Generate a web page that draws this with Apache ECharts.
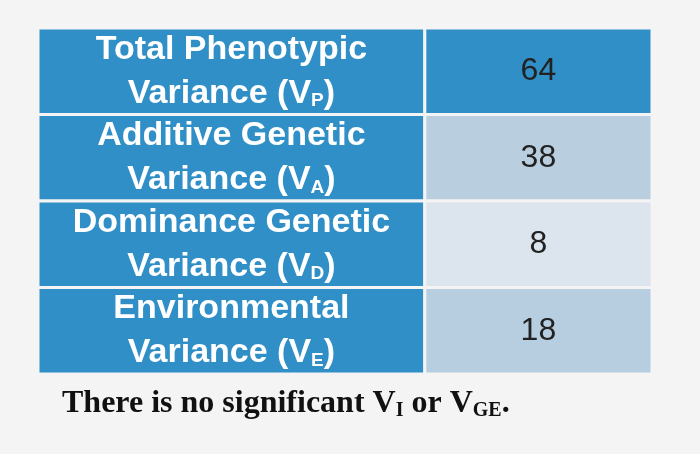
<!DOCTYPE html>
<html><head><meta charset="utf-8">
<script src="https://cdn.jsdelivr.net/npm/echarts@6/dist/echarts.min.js"></script>
<style>html,body{margin:0;background:#f4f4f4}#c{width:700px;height:454px}</style>
</head><body><div id="c"></div>
<script>
const labelsTop = ["Total Phenotypic", "Additive Genetic", "Dominance Genetic", "Environmental"];
const labelsSub = ["P", "A", "D", "E"];
const values = [64, 38, 8, 18];
const valueFill = ["#2f8fc6", "#b9cfe0", "#dce5ee", "#b7cee1"];
const caption = "There is no significant V";

const chart = echarts.init(document.getElementById('c'));
const data = values.map((v, i) => [i, v]);
chart.setOption({
  backgroundColor: '#f4f4f4',
  animation: false,
  grid: {left: 38, right: 48, top: 28, bottom: 80},
  xAxis: {type: 'value', min: 0, max: 1, show: false},
  yAxis: {type: 'value', min: 0, max: 4, inverse: true, show: false},
  series: [{
    type: 'custom',
    data: data,
    renderItem: function (params, api) {
      const i = api.value(0);
      const p0 = api.coord([0, i]);
      const pm = api.coord([0.63, i + 1]);
      const p1 = api.coord([1, i + 1]);
      return {type: 'group', children: [
        {type: 'rect', shape: {x: p0[0], y: p0[1], width: pm[0] - p0[0], height: pm[1] - p0[1]},
         style: {fill: '#2f8fc6', stroke: '#f4f4f4', lineWidth: 3}},
        {type: 'rect', shape: {x: pm[0], y: p0[1], width: p1[0] - pm[0], height: p1[1] - p0[1]},
         style: {fill: valueFill[i], stroke: '#f4f4f4', lineWidth: 3}},
        {type: 'text', x: (p0[0] + pm[0]) / 2, y: (p0[1] + pm[1]) / 2,
         style: {text: labelsTop[i] + '\nVariance (V{s|' + labelsSub[i] + '})',
           align: 'center', verticalAlign: 'middle', fill: '#fff',
           font: 'bold 34px "Liberation Sans", Arial, sans-serif', lineHeight: 44,
           rich: {s: {fontSize: 19, fontWeight: 'bold', fill: '#fff', padding: [16, 0, 0, 0],
             fontFamily: '"Liberation Sans", Arial, sans-serif'}}}},
        {type: 'text', x: (pm[0] + p1[0]) / 2, y: (p0[1] + pm[1]) / 2,
         style: {text: String(values[i]), align: 'center', verticalAlign: 'middle',
           fill: '#222', font: '32px "Liberation Sans", Arial, sans-serif'}}
      ]};
    }
  }],
  graphic: [{type: 'text', left: 62, top: 388,
    style: {text: caption + '{s|I} or V{s|GE}.', fill: '#111',
      font: 'bold 32px "Liberation Serif", "DejaVu Serif", serif',
      rich: {s: {fontSize: 20, fontWeight: 'bold', padding: [13, 0, 0, 0], fontFamily: '"Liberation Serif", serif', fill: '#111'}}}}]
});
</script></body></html>
